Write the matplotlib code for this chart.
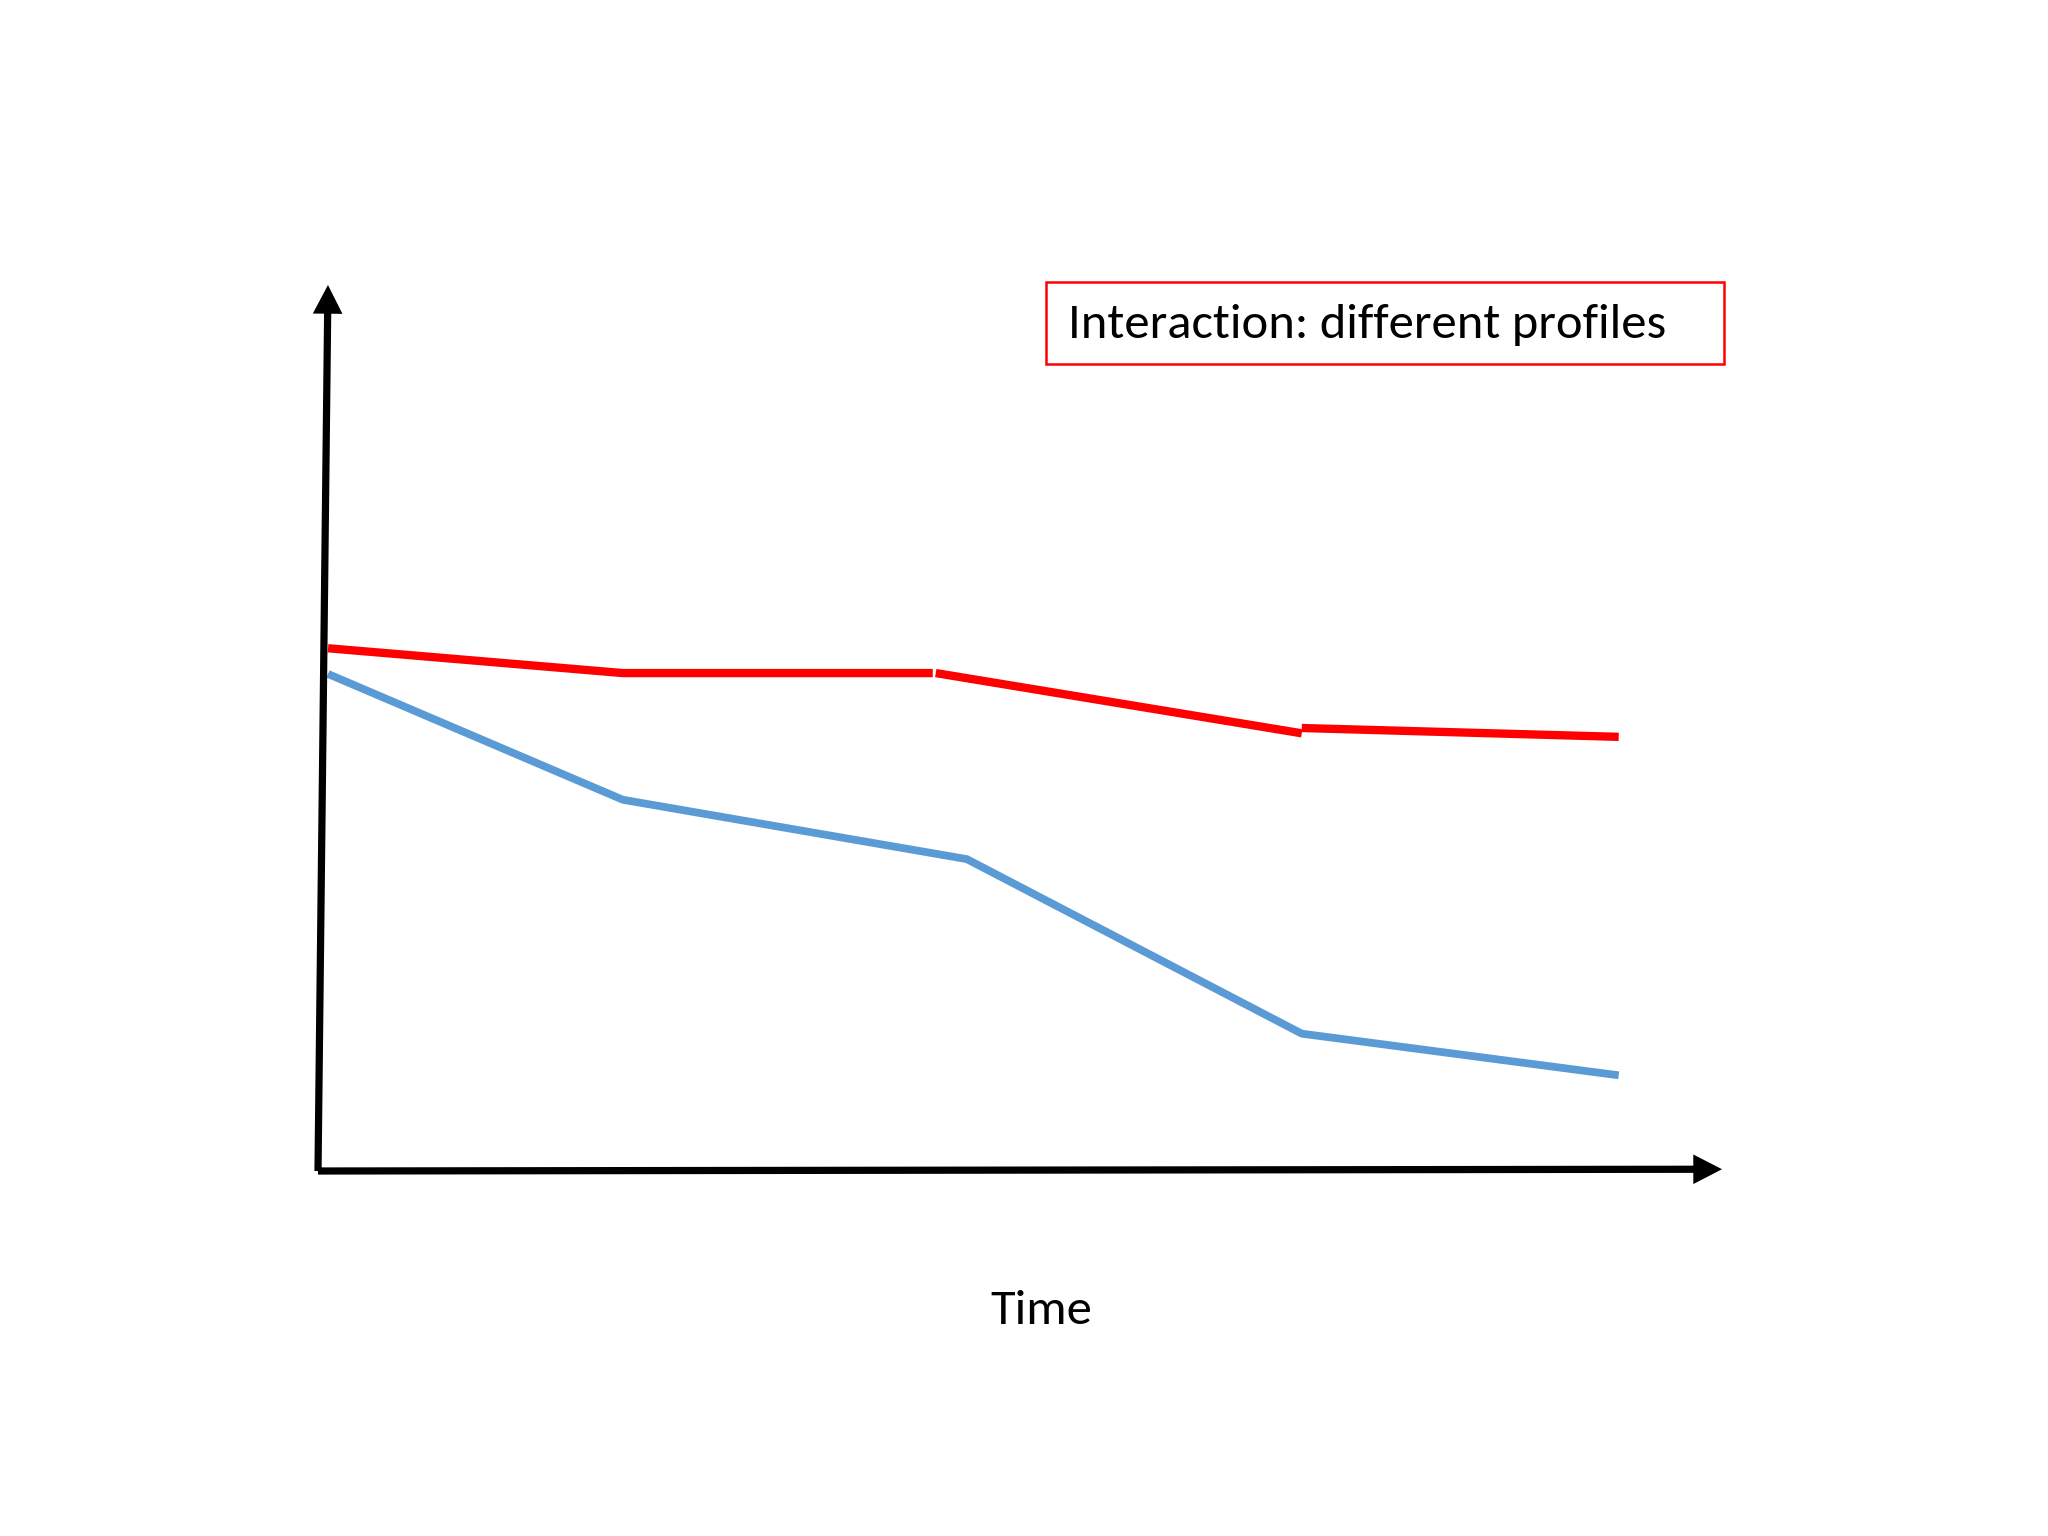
import matplotlib
matplotlib.use("Agg")
import matplotlib.pyplot as plt
from matplotlib import font_manager
from matplotlib.patches import Rectangle

# ---- data (arbitrary units: time on x, response on y) ----
red_segments_time = [[0.10, 3.04, 6.13], [6.16, 9.81], [9.81, 12.97]]
red_segments_value = [[5.90, 5.62, 5.62], [5.62, 4.94], [5.00, 4.90]]
blue_time = [0.10, 3.04, 6.47, 9.81, 12.97]
blue_value = [5.61, 4.19, 3.52, 1.55, 1.08]
title_text = "Interaction: different profiles"
xlabel_text = "Time"

# ---- font selection ----
available = {f.name for f in font_manager.fontManager.ttflist}
family = "DejaVu Sans"
for cand in ["Carlito", "Liberation Sans Narrow", "Open Sans", "Noto Sans"]:
    if cand in available:
        family = cand
        break
plt.rcParams["font.family"] = [family, "DejaVu Sans"]

W, H, DPI = 2048, 1536, 200
fig = plt.figure(figsize=(W / DPI, H / DPI), dpi=DPI, facecolor="white")

# axes placement (origin of drawn axes and arrow tips)
x0, y0 = 318, 1171
x1, y1 = 1722, 285
ax = fig.add_axes([x0 / W, 1 - y0 / H, (x1 - x0) / W, (y0 - y1) / H])
ax.set_xlim(0, 14)
ax.set_ylim(0, 10)
ax.axis("off")

# data lines
for t, v in zip(red_segments_time, red_segments_value):
    ax.plot(t, v, color="#ff0000", lw=3.0, solid_capstyle="butt",
            solid_joinstyle="miter", clip_on=False)
ax.plot(blue_time, blue_value, color="#5b9bd5", lw=2.8, solid_capstyle="butt",
        solid_joinstyle="miter", clip_on=False)

# hand-drawn style axes with arrows (axes fraction coordinates)
arrow_style = "-|>,head_length=0.62,head_width=0.32"
for tip in [(1.0, 0.002), (0.0071, 1.0)]:
    ax.annotate("", xy=tip, xytext=(0.0, 0.0), xycoords="axes fraction",
                textcoords="axes fraction",
                arrowprops=dict(arrowstyle=arrow_style, lw=2.6, color="black",
                                shrinkA=0, shrinkB=0, mutation_scale=10,
                                joinstyle="miter", capstyle="butt"))

# title box
fig.add_artist(Rectangle((1046 / W, 1 - 364 / H), (1724 - 1046) / W, (364 - 282) / H,
                         transform=fig.transFigure, fill=False,
                         edgecolor="#ff0000", lw=0.9))
t1 = fig.text(1068 / W, 1 - 338 / H, title_text, ha="left", va="baseline",
              fontsize=16, color="black")
fig.canvas.draw()
r = fig.canvas.get_renderer()
wpx = t1.get_window_extent(r).width
t1.set_fontsize(16 * 598 / wpx)

t2 = fig.text(1041 / W, 1 - 1324 / H, xlabel_text, ha="center", va="baseline",
              fontsize=t1.get_fontsize(), color="black")

fig.savefig("out.png", dpi=DPI, facecolor="white")
